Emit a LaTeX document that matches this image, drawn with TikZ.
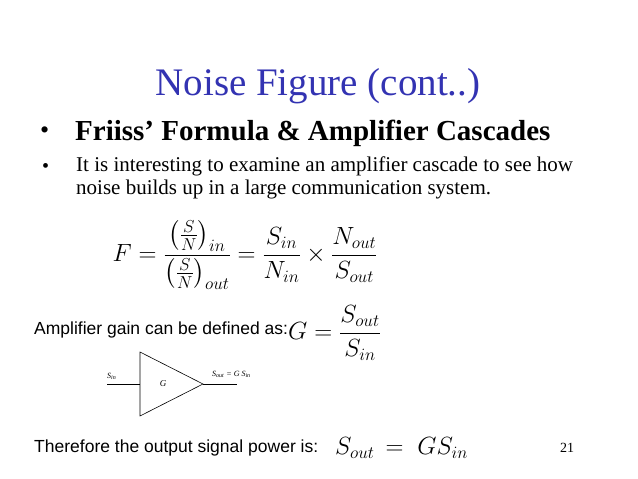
\documentclass[tikz,border=0pt]{standalone}
\usepackage{amsmath}
\usepackage{fontspec}
\setmainfont{Liberation Serif}
\newfontfamily\arial{Liberation Sans}
\definecolor{titleblue}{RGB}{51,51,178}
\begin{document}
\begin{tikzpicture}[x=1pt,y=-1pt,
  txt/.style={inner sep=0pt,anchor=west},
  wire/.style={line width=0.6pt}]
\useasboundingbox (0,0) rectangle (638,479);
\node[inner sep=0pt,text=titleblue,font=\fontsize{39}{42}\selectfont] (title) at (318,86) {Noise Figure (cont..)};
\node[txt,font=\fontsize{26}{26}\selectfont] (b1) at (40,133) {\textbullet};
\node[txt,font=\fontsize{29}{30}\selectfont\bfseries] (t1) at (75,133) {Friiss' Formula \& Amplifier Cascades};
\node[txt,font=\fontsize{20}{20}\selectfont] (b2) at (42,168) {\textbullet};
\node[txt,anchor=north west,font=\fontsize{21}{23}\selectfont,align=left] (t2) at (76,157) {It is interesting to examine an amplifier cascade to see how\\noise builds up in a large communication system.};
\node[inner sep=0pt,font=\fontsize{26}{30}\selectfont] (eqF) at (245,255)
 {$F=\dfrac{\left(\frac{S}{N}\right)_{in}}{\left(\frac{S}{N}\right)_{out}}=\dfrac{S_{in}}{N_{in}}\times\dfrac{N_{out}}{S_{out}}$};
\node[txt,font=\arial\fontsize{17.5}{20}\selectfont] (amp) at (34,330) {Amplifier gain can be defined as:};
\node[txt,font=\fontsize{27}{30}\selectfont] (eqG) at (288,333) {$G=\dfrac{S_{out}}{S_{in}}$};
\draw[wire] (140,352) coordinate (tA) -- (203,384) coordinate (tip) -- (140,416) coordinate (tB) -- cycle;
\coordinate (inL) at (107,384);
\coordinate (inR) at (140,384);
\coordinate (outR) at (237,384);
\draw[wire] (inL) -- (inR);
\draw[wire] (tip) -- (outR);
\node[inner sep=0pt,font=\fontsize{9}{10}\selectfont\itshape] (g) at (163,384) {G};
\node[txt,font=\fontsize{8}{9}\selectfont\itshape] (sin) at (107,376) {S\textsubscript{in}};
\node[txt,font=\fontsize{8}{9}\selectfont\itshape] (sout) at (212,374) {S\textsubscript{out} = G S\textsubscript{in}};
\node[txt,font=\arial\fontsize{17.5}{20}\selectfont] (there) at (34,448) {Therefore the output signal power is:};
\node[txt,font=\fontsize{26}{30}\selectfont] (eqS) at (335,448) {$S_{out}\,=\;GS_{in}$};
\node[txt,font=\fontsize{14}{14}\selectfont] (num) at (560,448) {21};
\end{tikzpicture}
\end{document}
